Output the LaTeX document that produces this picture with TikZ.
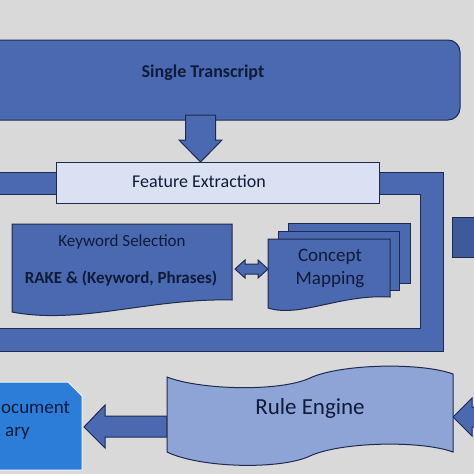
\documentclass[tikz,border=0pt]{standalone}
\usepackage{fontspec}
\setmainfont{Carlito}
\definecolor{bggray}{HTML}{D9D9D9}
\definecolor{mainblue}{HTML}{4A69B1}
\definecolor{edgeblue}{HTML}{1E2B4E}
\definecolor{paleblue}{HTML}{DAE1F2}
\definecolor{ruleblue}{HTML}{8FA4D6}
\definecolor{sumblue}{HTML}{2C7DD8}
\definecolor{darkblue}{HTML}{3D5A9D}
\definecolor{inktext}{HTML}{0F1B38}
\newcommand{\sizeat}[1]{\fontsize{#1}{#1}\selectfont}

\begin{document}
\begin{tikzpicture}[x=1pt,y=-1pt,
  blk/.style={fill=mainblue,draw=edgeblue,line width=1pt},
  lbl/.style={text=inktext,inner sep=0pt}]

\useasboundingbox[fill=bggray] (0,0) rectangle (474,474);

% frame round the extraction step
\draw[blk] (-20,172) rectangle (443,351);
\draw[fill=bggray,draw=edgeblue,line width=1pt] (-20,194) rectangle (420,328);

\node[blk,rounded corners=12pt,minimum width=514pt,minimum height=80pt,inner sep=0pt] (st) at (203,80) {};
\node[lbl,font=\sizeat{18}\bfseries] (sttext) at (203,73) {Single Transcript};

\node[draw=edgeblue,fill=paleblue,line width=1pt,minimum width=323pt,minimum height=41pt,inner sep=0pt] (fe) at (217.5,182.5) {};
\node[lbl,font=\sizeat{18}] (fetext) at (199,181) {Feature Extraction};

% down arrow
\coordinate (dtip) at (200.5,162);
\draw[blk] (dtip) -- ++(21.5,-22) -- ++(-6.5,0) -- ++(0,-25) -- ++(-30,0) -- ++(0,25) -- ++(-6.5,0) -- cycle;

% keyword selection
\draw[blk] (12,224) -- (232,224) -- (232,300) .. controls (150,298) and (80,325) .. (12,312) -- cycle;
\node[lbl,font=\sizeat{17}] (kwtitle) at (122,242) {Keyword Selection};
\node[lbl,font=\sizeat{17}\bfseries] (kwrake) at (121,279) {RAKE \& (Keyword, Phrases)};

% double arrow
\coordinate (kwr) at (235,269);
\coordinate (cml) at (268,269);
\draw[blk] (kwr) -- ++(10,-9) -- ++(0,4) -- ++(13,0) -- ++(0,-4) -- (cml) -- ++(-10,9) -- ++(0,-4) -- ++(-13,0) -- ++(0,4) -- cycle;

% concept mapping
\draw[blk] (288,223) rectangle (410,283);
\draw[blk] (278,231) rectangle (399,290);
\draw[blk] (268,239) -- (390,239) -- (390,297) .. controls (340,294) and (300,318) .. (268,308) -- cycle;
\node[lbl,font=\sizeat{19}] (cmtop) at (330,257) {Concept};
\node[lbl,font=\sizeat{19}] (cmbot) at (330,280) {Mapping};

\draw[fill=darkblue,draw=edgeblue,line width=1pt] (452,217) rectangle (480,257);

% arrows round the rule engine
\coordinate (ltip) at (84,427);
\draw[blk] (ltip) -- ++(21,-22) -- ++(0,11) -- ++(62,0) -- ++(0,21) -- ++(-62,0) -- ++(0,11) -- cycle;
\coordinate (rtip) at (453,417);
\draw[blk] (rtip) -- ++(19,-19) -- ++(0,9) -- ++(20,0) -- ++(0,20) -- ++(-20,0) -- ++(0,9) -- cycle;

% rule engine
\draw[fill=ruleblue,draw=edgeblue,line width=1pt] (167,377) .. controls (200,390) and (280,392) .. (310,378)
  .. controls (340,364) and (420,362) .. (453,374) -- (453,452)
  .. controls (420,440) and (340,442) .. (310,456) .. controls (280,470) and (200,468) .. (167,452) -- cycle;
\node[lbl,font=\sizeat{23}] (retext) at (310,408) {Rule Engine};

% summary box
\draw[fill=sumblue,draw=white!80!bggray,line width=1pt] (-10,382) -- (68,382) -- (82,396) -- (82,470) -- (-10,470) -- cycle;
\node[lbl,anchor=west,font=\sizeat{19}] (dsone) at (1,408) {ocument};
\node[lbl,anchor=west,font=\sizeat{19}] (dstwo) at (5,433) {ary};
\end{tikzpicture}
\end{document}
